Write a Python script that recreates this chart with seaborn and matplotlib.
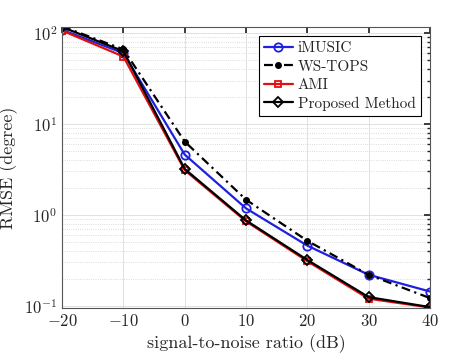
import matplotlib
matplotlib.use("Agg")
import matplotlib.pyplot as plt
import seaborn as sns
import numpy as np
import pandas as pd

snr = [-20, -10, 0, 10, 20, 30, 40]
imusic = [108, 60, 4.6, 1.18, 0.46, 0.22, 0.144]
wstops = [118, 66, 6.4, 1.47, 0.52, 0.22, 0.122]
ami = [106, 55, 3.1, 0.85, 0.31, 0.12, 0.096]
proposed = [116, 63, 3.2, 0.87, 0.32, 0.125, 0.097]
labels = ["iMUSIC", "WS-TOPS", "AMI", "Proposed Method"]

sns.set_theme(style="white")
plt.rcParams["font.family"] = "serif"
plt.rcParams["font.serif"] = ["cmr10", "DejaVu Serif"]
plt.rcParams["mathtext.fontset"] = "cm"
plt.rcParams["axes.formatter.use_mathtext"] = True
plt.rcParams["axes.unicode_minus"] = True

fig = plt.figure(figsize=(4.74, 3.56), dpi=100)
ax = fig.add_axes([0.131, 0.135, 0.776, 0.789])

styles = [
    dict(color="#1f1fe0", linestyle="-", marker="o", mfc="none", ms=6, mew=1.3),
    dict(color="black", linestyle=(0, (4, 2, 1, 2)), marker="o", mfc="black", ms=4, mew=1.0),
    dict(color="#e01010", linestyle="-", marker="s", mfc="none", ms=5, mew=1.3),
    dict(color="black", linestyle="-", marker="D", mfc="none", ms=5, mew=1.3),
]
series = [imusic, wstops, ami, proposed]
for lab, vals, st in zip(labels, series, styles):
    df = pd.DataFrame({"snr": snr, "rmse": vals})
    sns.lineplot(data=df, x="snr", y="rmse", ax=ax, label=lab, lw=1.6,
                 color=st["color"], linestyle=st["linestyle"], marker=st["marker"],
                 markerfacecolor=st["mfc"], markeredgecolor=st["color"],
                 markersize=st["ms"], markeredgewidth=st["mew"])

ax.set_yscale("log")
ax.set_xlim(-20, 40)
ax.set_ylim(0.095, 116)
ax.set_xticks([-20, -10, 0, 10, 20, 30, 40])
ax.set_xticklabels([r"$-20$", r"$-10$", r"$0$", r"$10$", r"$20$", r"$30$", r"$40$"])
ax.grid(True, which="major", color="#dcdcdc", linewidth=0.6, linestyle="-")
ax.grid(True, which="minor", color="#d0d0d0", linewidth=0.6, linestyle=":")
ax.tick_params(which="both", direction="in", top=True, right=True, labelsize=12)
ax.tick_params(which="major", length=4)
ax.tick_params(which="minor", length=2)
for s in ax.spines.values():
    s.set_color("#555555")
    s.set_linewidth(0.8)
ax.set_xlabel("signal-to-noise ratio (dB)", fontsize=13)
ax.set_ylabel("RMSE (degree)", fontsize=13)
leg = ax.legend(loc="upper right", fontsize=11, frameon=True, fancybox=False,
                edgecolor="black", framealpha=1, borderpad=0.35, labelspacing=0.3,
                handlelength=1.9, handletextpad=0.3, borderaxespad=0.6)
leg.get_frame().set_linewidth(0.8)
fig.savefig("out.png", dpi=100)
